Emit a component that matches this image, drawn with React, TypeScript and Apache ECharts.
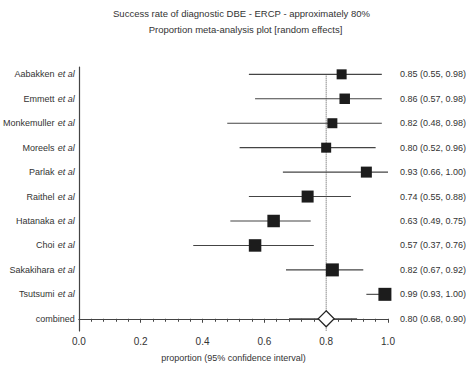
import React, { useEffect, useRef } from "react";
import * as echarts from "echarts";

const studies = ["Aabakken", "Emmett", "Monkemuller", "Moreels", "Parlak", "Raithel", "Hatanaka", "Choi", "Sakakihara", "Tsutsumi", "combined"];
const hasEtAl = [true, true, true, true, true, true, true, true, true, true, false];
const estimates = [0.85, 0.86, 0.82, 0.80, 0.93, 0.74, 0.63, 0.57, 0.82, 0.99, 0.80];
const lower = [0.55, 0.57, 0.48, 0.52, 0.66, 0.55, 0.49, 0.37, 0.67, 0.93, 0.68];
const upper = [0.98, 0.98, 0.98, 0.96, 1.00, 0.88, 0.75, 0.76, 0.92, 1.00, 0.90];
const markerSize = [10, 10.5, 10, 10, 11, 12, 12.5, 12.5, 13, 13, 16];
const xTicks = [0, 0.2, 0.4, 0.6, 0.8, 1.0];
const pooled = 0.8;
const titleLine1 = "Success rate of diagnostic DBE - ERCP - approximately 80%";
const titleLine2 = "Proportion meta-analysis plot [random effects]";

const FONT = "Liberation Sans, Arial, sans-serif";
const n = studies.length;
const rowY = (i: number) => n - 1 - i;
const rowValues = studies.map((_, i) => rowY(i));
const idxFromY = (v: number) => n - 1 - Math.round(v);

export default function App() {
  const ref = useRef<HTMLDivElement>(null);
  useEffect(() => {
    if (!ref.current) return;
    const chart = echarts.init(ref.current, undefined, { renderer: "svg" });
    const data = studies.map((_, i) => [lower[i], upper[i], estimates[i], rowY(i), markerSize[i], i === n - 1 ? 1 : 0]);
    chart.setOption({
      animation: false,
      textStyle: { fontFamily: FONT },
      graphic: [
        { type: "text", x: 241.5, y: 13, style: { text: titleLine1, font: `9.5px ${FONT}`, fill: "#333", textAlign: "center", textVerticalAlign: "middle" } },
        { type: "text", x: 245.5, y: 29, style: { text: titleLine2, font: `9.5px ${FONT}`, fill: "#333", textAlign: "center", textVerticalAlign: "middle" } },
      ],
      grid: { left: 78, right: 86, top: 67, bottom: 35, containLabel: false },
      xAxis: {
        type: "value",
        min: 0,
        max: 1,
        interval: 0.2,
        name: "proportion (95% confidence interval)",
        nameLocation: "middle",
        nameGap: 22,
        nameTextStyle: { fontSize: 9, color: "#333", fontFamily: FONT },
        axisLine: { show: true, lineStyle: { color: "#444", width: 1.2 } },
        axisTick: { show: true, length: 4, lineStyle: { color: "#444" } },
        minorTick: { show: true, splitNumber: 5, length: 3, lineStyle: { color: "#444" } },
        splitLine: { show: false },
        axisLabel: { fontSize: 10, color: "#333", margin: 5, fontFamily: FONT, formatter: (v: number) => v.toFixed(1), customValues: xTicks },
      },
      yAxis: [
        {
          type: "value",
          min: -0.5,
          max: n - 1 + 0.3,
          axisLine: { show: true, lineStyle: { color: "#444", width: 1.2 } },
          axisTick: { show: false },
          splitLine: { show: false },
          axisLabel: {
            customValues: rowValues,
            margin: 4,
            fontFamily: FONT,
            formatter: (v: number) => {
              const i = idxFromY(v);
              return hasEtAl[i] ? `{n|${studies[i]}} {i|et al}` : `{n|${studies[i]}}`;
            },
            rich: {
              n: { fontSize: 9, color: "#333", fontFamily: FONT },
              i: { fontSize: 9, color: "#333", fontStyle: "italic", fontFamily: FONT },
            },
          },
        },
        {
          type: "value",
          position: "right",
          min: -0.5,
          max: n - 1 + 0.3,
          axisLine: { show: false },
          axisTick: { show: false },
          splitLine: { show: false },
          axisLabel: {
            customValues: rowValues,
            margin: 12,
            fontSize: 9,
            color: "#333",
            fontFamily: FONT,
            formatter: (v: number) => {
              const i = idxFromY(v);
              return `${estimates[i].toFixed(2)} (${lower[i].toFixed(2)}, ${upper[i].toFixed(2)})`;
            },
          },
        },
      ],
      series: [
        {
          type: "custom",
          yAxisIndex: 0,
          data: [[pooled]],
          z: 1,
          renderItem: (params: any, api: any) => {
            const top = api.coord([api.value(0), n - 1]);
            const bot = api.coord([api.value(0), -0.5]);
            return {
              type: "line",
              shape: { x1: top[0], y1: top[1], x2: bot[0], y2: bot[1] },
              style: { stroke: "#555", lineWidth: 1, lineDash: [1, 1] },
            };
          },
        },
        {
          type: "custom",
          yAxisIndex: 0,
          data,
          z: 2,
          renderItem: (params: any, api: any) => {
            const lo = api.coord([api.value(0), api.value(3)]);
            const hi = api.coord([api.value(1), api.value(3)]);
            const c = api.coord([api.value(2), api.value(3)]);
            const s = api.value(4);
            const isPooled = api.value(5) === 1;
            const children: any[] = [
              { type: "line", shape: { x1: lo[0], y1: lo[1], x2: hi[0], y2: hi[1] }, style: { stroke: "#444", lineWidth: 1.1 } },
            ];
            if (isPooled) {
              const h = s / 2;
              children.push({
                type: "polygon",
                shape: { points: [[c[0], c[1] - h], [c[0] + h, c[1]], [c[0], c[1] + h], [c[0] - h, c[1]]] },
                style: { fill: "#fff", stroke: "#222", lineWidth: 1.2 },
              });
            } else {
              children.push({
                type: "rect",
                shape: { x: c[0] - s / 2, y: c[1] - s / 2, width: s, height: s },
                style: { fill: "#1c1c1c" },
              });
            }
            return { type: "group", children };
          },
        },
      ],
    });
    return () => chart.dispose();
  }, []);
  return <div ref={ref} style={{ width: 474, height: 367, position: "absolute", left: 0, top: 0 }} />;
}
